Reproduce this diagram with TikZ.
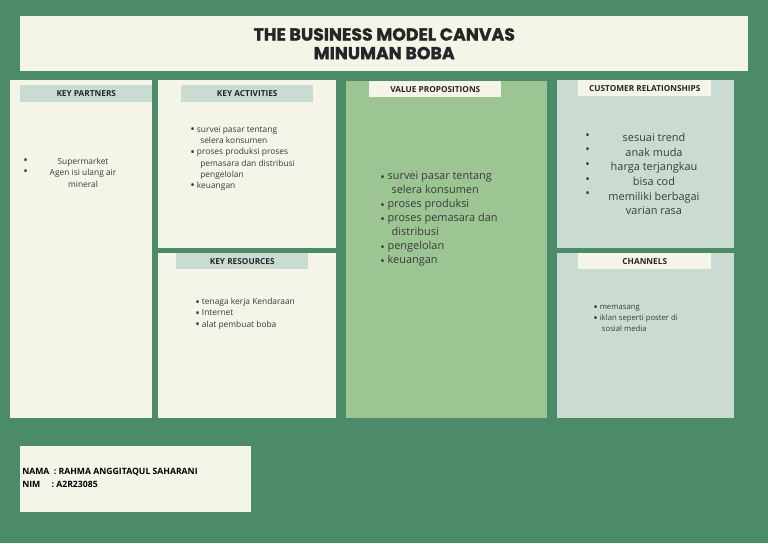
\documentclass[tikz,border=0pt]{standalone}
\usepackage{fontspec}
\setmainfont{Open Sans}
\newfontfamily\titlefont[FakeBold=1.5]{Poppins}
\usepackage{xcolor}
\definecolor{bgreen}{HTML}{4B8B68}
\definecolor{cream}{HTML}{F4F4E8}
\definecolor{sage}{HTML}{CADCD2}
\definecolor{vgreen}{HTML}{9DC594}
\definecolor{ink}{HTML}{3A3A3A}
\tikzset{
  panel/.style={fill=#1, draw=none, anchor=north west, inner sep=0pt},
  chip/.style={fill=#1, anchor=north west, inner sep=0pt, font=\bfseries\fontsize{6.2}{7}\selectfont, text=black!85},
  body/.style={text=ink, align=left, anchor=north west, inner sep=0pt}
}
\newcommand{\bx}[5]{\node[panel=#5, minimum width=#3*0.75pt, minimum height=#4*0.75pt] (#1) at #2 {};}
\newcommand{\bl}{\raisebox{-0.3ex}{\fontsize{9}{1}\selectfont•}}
\begin{document}
\begin{tikzpicture}[x=0.75pt,y=-0.75pt]
  \fill[bgreen] (0,0) rectangle (768,543);
  \useasboundingbox (0,0) rectangle (768,543);

  % title
  \bx{title}{(20,16)}{728}{55}{cream}
  \node[font=\titlefont\bfseries\fontsize{13}{14}\selectfont, align=center, text=black!85]
    (ttext) at (title.center) {THE BUSINESS MODEL CANVAS\\MINUMAN BOBA};

  % panels
  \bx{kp}{(10,80)}{142}{338}{cream}
  \bx{ka}{(158,80)}{178}{168}{cream}
  \bx{kr}{(158,253)}{178}{165}{cream}
  \bx{vp}{(346,81)}{201}{337}{vgreen}
  \bx{cr}{(557,80)}{177}{168}{sage}
  \bx{ch}{(557,253)}{177}{165}{sage}
  \bx{nm}{(20,446)}{231}{66}{cream}

  % chips
  \node[chip=sage, minimum width=132*0.75pt, minimum height=17*0.75pt] (kpl) at (20,85) {KEY PARTNERS};
  \node[chip=sage, minimum width=132*0.75pt, minimum height=17*0.75pt] (kal) at (181,85) {KEY ACTIVITIES};
  \node[chip=sage, minimum width=132*0.75pt, minimum height=16*0.75pt] (krl) at (176,253) {KEY RESOURCES};
  \node[chip=cream, minimum width=132*0.75pt, minimum height=16*0.75pt] (vpl) at (369,81) {VALUE PROPOSITIONS};
  \node[chip=cream, minimum width=133*0.75pt, minimum height=16*0.75pt] (crl) at (578,80) {CUSTOMER RELATIONSHIPS};
  \node[chip=cream, minimum width=133*0.75pt, minimum height=16*0.75pt] (chl) at (578,253) {CHANNELS};

  % key partners
  \node[body, font=\fontsize{6.3}{8.4}\selectfont] (kpb) at (23,158)
    {\bl\\\bl};
  \node[body, align=center, anchor=north, font=\fontsize{6.3}{8.4}\selectfont] (kpt) at (83,158)
    {Supermarket\\Agen isi ulang air\\mineral};

  % key activities
  \node[body, font=\fontsize{6.3}{8.4}\selectfont] (kat) at (190,126)
    {\bl\ survei pasar tentang\\\hspace*{7.5pt}selera konsumen\\\bl\ proses produksi proses\\\hspace*{7.5pt}pemasara dan distribusi\\\hspace*{7.5pt}pengelolan\\\bl\ keuangan};

  % key resources
  \node[body, font=\fontsize{6.3}{8.4}\selectfont] (krt) at (195,298)
    {\bl\ tenaga kerja Kendaraan\\\bl\ Internet\\\bl\ alat pembuat boba};

  % value propositions
  \node[body, font=\fontsize{8.2}{10.5}\selectfont] (vpt) at (380,171)
    {\bl\ survei pasar tentang\\\hspace*{8.5pt}selera konsumen\\\bl\ proses produksi\\\bl\ proses pemasara dan\\\hspace*{8.5pt}distribusi\\\bl\ pengelolan\\\bl\ keuangan};

  % customer relationships
  \node[body, font=\fontsize{8.2}{11}\selectfont] (crb) at (585,133)
    {\bl\\\bl\\\bl\\\bl\\\bl};
  \node[body, align=center, anchor=north, font=\fontsize{8.2}{11}\selectfont] (crt) at (654,133)
    {sesuai trend\\anak muda\\harga terjangkau\\bisa cod\\memiliki berbagai\\varian rasa};

  % channels
  \node[body, font=\fontsize{5.8}{8.2}\selectfont] (cht) at (593,305)
    {\bl\ memasang\\\bl\ iklan seperti poster di\\\hspace*{6.5pt}sosial media};

  % name
  \node[body, font=\bfseries\fontsize{6.5}{10}\selectfont, text=black] (nmt) at (22,468)
    {NAMA~ : RAHMA ANGGITAQUL SAHARANI\\NIM~~~~ : A2R23085};
\end{tikzpicture}
\end{document}
